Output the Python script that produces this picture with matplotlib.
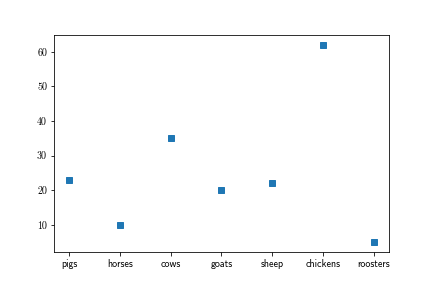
import matplotlib
matplotlib.use("Agg")
import matplotlib.pyplot as plt

animals = ["pigs", "horses", "cows", "goats", "sheep", "chickens", "roosters"]
counts = [23, 10, 35, 20, 22, 62, 5]

fig, ax = plt.subplots(figsize=(6, 4), dpi=72)
fig.subplots_adjust(left=0.125, right=0.9, bottom=0.125, top=0.878)
ax.plot(animals, counts, "s", color="tab:blue")

for lab in ax.get_xticklabels():
    lab.set_fontfamily("cmss10")
for lab in ax.get_yticklabels():
    lab.set_fontfamily("cmr10")

fig.savefig("out.png", dpi=72)
